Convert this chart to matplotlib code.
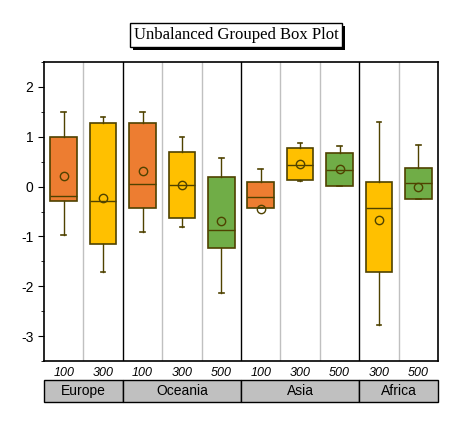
import numpy as np
import matplotlib.pyplot as plt
from matplotlib.patches import Rectangle

plt.rcParams['axes.unicode_minus'] = False

# groups and sub-categories
groups = ["Europe", "Oceania", "Asia", "Africa"]
group_sizes = [2, 3, 3, 2]
sub_labels = ["100", "300", "100", "300", "500", "100", "300", "500", "300", "500"]

# box statistics
whislo = [-0.98, -1.72, -0.92, -0.82, -2.14, -0.42, 0.11, 0.01, -2.77, -0.24]
q1     = [-0.28, -1.15, -0.42, -0.63, -1.23, -0.42, 0.13, 0.01, -1.72, -0.24]
med    = [-0.18, -0.29,  0.05,  0.03, -0.88, -0.20, 0.43, 0.33, -0.42,  0.07]
q3     = [ 1.00,  1.28,  1.28,  0.69,  0.19,  0.09, 0.77, 0.67,  0.09,  0.37]
whishi = [ 1.50,  1.39,  1.50,  0.99,  0.57,  0.35, 0.87, 0.81,  1.29,  0.83]
means  = [ 0.21, -0.22,  0.31,  0.03, -0.69, -0.44, 0.45, 0.36, -0.68, -0.01]

colors = {"100": "#ED7D31", "300": "#FFC000", "500": "#70AD47"}
edge = "#4f4200"

fig = plt.figure(figsize=(4.73, 4.34), dpi=100)
ax = fig.add_axes([44/473, 1-361/434, 394/473, 299/434])

stats = []
for i in range(len(sub_labels)):
    stats.append(dict(whislo=whislo[i], q1=q1[i], med=med[i], q3=q3[i],
                      whishi=whishi[i], mean=means[i], fliers=[]))

pos = np.arange(len(sub_labels))
bp = ax.bxp(stats, positions=pos, widths=0.68, patch_artist=True, showmeans=True,
            showfliers=False,
            boxprops=dict(edgecolor=edge, linewidth=1.2),
            medianprops=dict(color=edge, linewidth=1),
            whiskerprops=dict(color=edge, linewidth=1),
            capprops=dict(color=edge, linewidth=1.2),
            capwidths=0.12,
            meanprops=dict(marker='o', markerfacecolor='none', markeredgecolor=edge,
                           markersize=6, markeredgewidth=1))
for patch, lab in zip(bp['boxes'], sub_labels):
    patch.set_facecolor(colors[lab])

# separators
bounds = np.cumsum(group_sizes)[:-1] - 0.5
for x in np.arange(0.5, len(sub_labels) - 0.5, 1.0):
    if x in bounds:
        ax.axvline(x, color='black', linewidth=1, zorder=0.5)
    else:
        ax.axvline(x, color='#c0c0c0', linewidth=1, zorder=0.5)

ax.set_xlim(-0.5, len(sub_labels) - 0.5)
ax.set_ylim(-3.5, 2.5)
ax.set_yticks([-3, -2, -1, 0, 1, 2])
ax.set_yticks(np.arange(-3.5, 2.51, 0.5), minor=True)
ax.set_xticks(pos)
ax.set_xticklabels(sub_labels, fontstyle='italic', fontsize=9, family='Liberation Sans')
ax.tick_params(axis='x', length=0, pad=4)
ax.tick_params(axis='y', which='major', length=4, direction='out', labelsize=10)
ax.tick_params(axis='y', which='minor', length=2.5, direction='out')
for t in ax.get_yticklabels():
    t.set_family('Liberation Sans')
for s in ax.spines.values():
    s.set_linewidth(1.2)

# category band below the axis
tr = ax.get_xaxis_transform()
start = -0.5
for g, n in zip(groups, group_sizes):
    ax.add_patch(Rectangle((start, -0.137), n, 0.0735, transform=tr, clip_on=False,
                           facecolor='#c0c0c0', edgecolor='black', linewidth=1))
    ax.text(start + n / 2, -0.100, g, transform=tr, ha='center', va='center',
            fontsize=10, family='Liberation Sans')
    start += n

# title with drop shadow
t = fig.text(236/473, 1 - 35/434, "Unbalanced Grouped Box Plot", ha='center', va='center',
             fontsize=12, family='Liberation Serif', zorder=2,
             bbox=dict(boxstyle='square,pad=0.22', facecolor='white', edgecolor='black',
                       linewidth=1))
fig.canvas.draw()
bb = t.get_bbox_patch().get_window_extent()
fig.patches.append(Rectangle((bb.x0 + 3, bb.y0 - 3), bb.width, bb.height, transform=None,
                             facecolor='black', edgecolor='none', zorder=1))

fig.savefig("out.png", dpi=100)
